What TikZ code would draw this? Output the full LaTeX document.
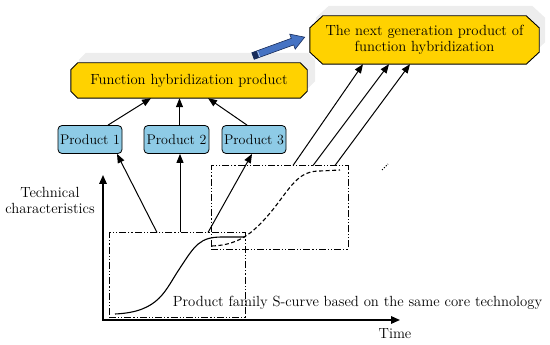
\documentclass[tikz,border=0pt]{standalone}
\usetikzlibrary{arrows.meta,calc,backgrounds}
\definecolor{ygold}{RGB}{255,210,0}
\definecolor{pblue}{RGB}{142,203,230}
\definecolor{abl}{RGB}{70,115,195}
\definecolor{adk}{RGB}{25,45,90}
\definecolor{shad}{RGB}{237,237,237}
% octagon around a node: node, chamfer x, chamfer y, shift x, shift y
\newcommand\octpath[5]{($(#1.north west)+({(#2)+(#4)},{#5})$) -- ($(#1.north east)+({-(#2)+(#4)},{#5})$) -- ($(#1.north east)+({#4},{(#3)+(#5)})$) -- ($(#1.south east)+({#4},{-(#3)+(#5)})$) -- ($(#1.south east)+({-(#2)+(#4)},{#5})$) -- ($(#1.south west)+({(#2)+(#4)},{#5})$) -- ($(#1.south west)+({#4},{-(#3)+(#5)})$) -- ($(#1.north west)+({#4},{(#3)+(#5)})$) -- cycle}
\tikzset{
 lab/.style={font=\fontsize{14.7}{16.5}\selectfont, inner sep=0pt},
 octnode/.style={lab, align=center},
 octfill/.style={fill=ygold, draw=black, line width=0.9pt, line join=miter},
 octshadow/.style={fill=shad},
 prod/.style={font=\fontsize{14}{16}\selectfont, inner sep=0pt, draw=black, fill=pblue, rounded corners=4pt, minimum height=28pt, minimum width=64pt, line width=0.8pt},
 conn/.style={-{Triangle[length=9pt,width=7pt]}, line width=1pt},
 ddbox/.style={draw, line width=1pt, dash pattern=on 7pt off 2pt on 1.2pt off 2pt on 1.2pt off 2pt, inner sep=0pt},
 axis/.style={line width=1.6pt, {Triangle[length=9pt,width=7.5pt]}-{Triangle[length=9pt,width=7.5pt]}},
 scurve/.style={line width=1.1pt},
}
\begin{document}
\begin{tikzpicture}[x=1pt,y=-1pt]
\useasboundingbox (0,0) rectangle (550,345);
% yellow octagon nodes
\node[octnode, minimum width=236pt, minimum height=35pt] (fhp) at (189,80.5) {Function hybridization product};
\node[octnode, minimum width=229pt, minimum height=48pt] (ngp) at (424.5,40) {The next generation product of\\function hybridization};
\begin{scope}[on background layer]
 \path[octshadow] \octpath{fhp}{7}{7}{8}{-10};
 \path[octshadow] \octpath{ngp}{13}{12}{6}{-10};
 \path[octfill] \octpath{fhp}{7}{7}{0}{0};
 \path[octfill] \octpath{ngp}{13}{12}{0}{0};
\end{scope}
% product boxes
\node[prod] (p1) at (90,139.5) {Product 1};
\node[prod, minimum width=65pt] (p2) at (176.5,139.5) {Product 2};
\node[prod] (p3) at (254,139.5) {Product 3};
% dash-dot boxes
\node[ddbox, minimum width=136pt, minimum height=84pt] (box1) at (177,275) {};
\node[ddbox, minimum width=137pt, minimum height=83pt] (box2) at (279.5,207.5) {};
% axes
\coordinate (ytip) at (103,175);
\coordinate (O) at (103,320);
\coordinate (xtip) at (400,320);
\draw[axis] (ytip) -- (O) -- (xtip);
% S-curves
\draw[scurve] (115,314) .. controls (160,312) and (165,290) .. (180,268) .. controls (195,245) and (200,237) .. (222,237) -- (245,237);
\draw[scurve, dash pattern=on 4pt off 2.5pt] (212,246) .. controls (240,245) and (255,232) .. (275,207) .. controls (293,183) and (300,171) .. (320,171) -- (340,170);
% connectors products -> fhp
\draw[conn] ([xshift=18pt]p1.north) -- ([xshift=-38pt]fhp.south);
\draw[conn] ([xshift=3pt]p2.north) -- ([xshift=-9.5pt]fhp.south);
\draw[conn] ([xshift=-7pt]p3.north) -- ([xshift=19pt]fhp.south);
% connectors box1 -> products
\draw[conn] ([xshift=-20pt]box1.north) -- ([xshift=27pt]p1.south);
\draw[conn] ([xshift=3pt]box1.north) -- ([xshift=3.5pt]p2.south);
\draw[conn] ([xshift=31pt]box1.north) -- ([xshift=-2pt]p3.south);
% connectors box2 -> ngp
\draw[conn] ([xshift=13.5pt]box2.north) -- ([xshift=-61.5pt]ngp.south);
\draw[conn] ([xshift=33.5pt]box2.north) -- ([xshift=-35.5pt]ngp.south);
\draw[conn] ([xshift=55.5pt]box2.north) -- ([xshift=-14.5pt]ngp.south);
% blue block arrow
\begin{scope}[shift={(253,56)}, rotate=20]
 \draw[fill=abl, draw=adk, line width=0.6pt, line join=miter] (0,-3.5) -- (42,-3.5) -- (42,-8) -- (55,0) -- (42,8) -- (42,3.5) -- (0,3.5) -- cycle;
 \fill[adk] (0,-3.5) rectangle (5,3.5);
 \draw[white!70!abl, line width=0.6pt] (6,-3.2) -- (6,3.2);
\end{scope}
% small stray mark
\draw[line width=1pt, dash pattern=on 1.2pt off 1.5pt] (382,170) -- (388,164);
% labels
\node[lab, align=center] (tc) at (50,200.5) {Technical\\characteristics};
\node[lab] (sc) at (357.5,303) {Product family S-curve based on the same core technology};
\node[lab] (time) at (395,334) {Time};
\end{tikzpicture}
\end{document}
